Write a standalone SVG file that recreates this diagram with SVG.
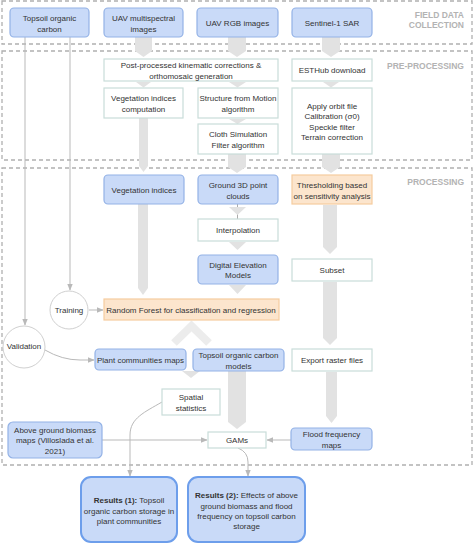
<svg xmlns="http://www.w3.org/2000/svg" width="474" height="544" viewBox="0 0 474 544">
<defs>
<style>
text{font-family:"Liberation Sans",Arial,sans-serif;font-size:8px;fill:#333;text-anchor:middle}
.sec{fill:none;stroke:#b0b0b0;stroke-width:1.3;stroke-dasharray:4 3}
.lbl{font-weight:bold;font-size:8.5px;fill:#b3b3b3;text-anchor:end}
.blue{fill:#c9daf8;stroke:#93b2e6;stroke-width:1.2}
.white{fill:#fff;stroke:#c9ddd9;stroke-width:1.2}
.orange{fill:#fce5cd;stroke:#f5cc9f;stroke-width:1.2}
.res{fill:#c9daf8;stroke:#6d9eeb;stroke-width:2}
.circ{fill:#fff;stroke:#d0d0d0;stroke-width:1}
.big{fill:#e2e2e2}
.thin{fill:none;stroke:#b9b9b9;stroke-width:1;marker-end:url(#ah)}
</style>
<marker id="ah" viewBox="0 0 10 10" refX="9" refY="5" markerWidth="7" markerHeight="7" orient="auto" markerUnits="userSpaceOnUse">
<path d="M0,1 L10,5 L0,9 z" fill="#b9b9b9"/>
</marker>
</defs>
<rect width="474" height="544" fill="#fff"/>
<g id="sections">
<rect class="sec" x="2" y="1" width="470" height="43"/>
<rect class="sec" x="2" y="51" width="470" height="109"/>
<rect class="sec" x="2" y="168" width="470" height="297"/>
<text class="lbl" x="464" y="17.5">FIELD DATA</text>
<text class="lbl" x="464" y="28">COLLECTION</text>
<text class="lbl" x="464" y="69">PRE-PROCESSING</text>
<text class="lbl" x="464" y="185">PROCESSING</text>
</g>
<g id="connectors">
<path class="big" d="M135,37 H152 V51 L143.5,57 L135,51 Z"/>
<path class="big" d="M228,37 H246 V51 L237,57 L228,51 Z"/>
<path class="big" d="M322,37 H340 V51 L331,57 L322,51 Z"/>
<path class="big" d="M136,82 H151 L143.5,87.5 Z"/>
<path class="big" d="M229,82 H246 L237.5,87.5 Z"/>
<path class="big" d="M323,82 H339 L331,87.5 Z"/>
<path class="big" d="M229,119 H246 L237.5,124 Z"/>
<path class="big" d="M139,118 H148 V166 L143.5,172 L139,166 Z"/>
<path class="big" d="M228,154 H246 V167 L237,173 L228,167 Z"/>
<path class="big" d="M322,154 H340 V167 L331,173 L322,167 Z"/>
<path class="big" d="M138,204 H148 V288 L143,295 L138,288 Z"/>
<line x1="237.5" y1="204" x2="237.5" y2="219" stroke="#888" stroke-width="0.7"/>
<path class="big" d="M229,207 H246 L237.5,215 Z"/>
<path class="big" d="M229,242 H246 L237.5,250 Z"/>
<path class="big" d="M229,285 H246 L237.5,294 Z"/>
<path class="big" d="M323,205 H337 V247 L330,254 L323,247 Z"/>
<path class="big" d="M323,282 H337 V338 L330,345 L323,338 Z"/>
<polyline points="174,343 191.5,326 209,343" fill="none" stroke="#ececec" stroke-width="8"/>
<path class="big" d="M182,371 H200 L191,378 Z"/>
<path class="big" d="M228,371 H246 V422 L237,429 L228,422 Z"/>
<path class="big" d="M326,372 H337 V416 L331.5,423 L326,416 Z"/>
<path class="thin" d="M25,37 V325"/>
<path class="thin" d="M70,37 V290"/>
<path class="thin" d="M89,310 H103"/>
<path class="thin" d="M45,350 Q62,360 80,360 L94,360"/>
<path class="thin" d="M162,402 C145,412 130,418 130,435 L130,476"/>
<path class="thin" d="M102,440 H207"/>
<path class="thin" d="M291,440 H267"/>
<path class="thin" d="M238,448 Q248,452 248,462 L248,476"/>
</g>
<g id="n-topsoil"><rect class="blue" x="10" y="8" width="79" height="29" rx="4"/><text x="49.5" y="20.5">Topsoil organic</text><text x="49.5" y="31.5">carbon</text></g>
<g id="n-uavms"><rect class="blue" x="104" y="8" width="79" height="29" rx="4"/><text x="143.5" y="20.5">UAV multispectral</text><text x="143.5" y="31.5">images</text></g>
<g id="n-uavrgb"><rect class="blue" x="197" y="8" width="81" height="29" rx="4"/><text x="237.5" y="25.5">UAV RGB images</text></g>
<g id="n-s1"><rect class="blue" x="292" y="8" width="80" height="29" rx="4"/><text x="332" y="25.5">Sentinel-1 SAR</text></g>
<g id="n-ppk"><rect class="white" x="104" y="59" width="174" height="22"/><text x="191" y="68">Post-processed kinematic corrections &amp;</text><text x="191" y="78.5">orthomosaic generation</text></g>
<g id="n-vic"><rect class="white" x="104" y="88" width="79" height="30"/><text x="143.5" y="101">Vegetation indices</text><text x="143.5" y="111.5">computation</text></g>
<g id="n-sfm"><rect class="white" x="198" y="88" width="80" height="30"/><text x="238" y="101">Structure from Motion</text><text x="238" y="111.5">algorithm</text></g>
<g id="n-csf"><rect class="white" x="198" y="124" width="80" height="30"/><text x="238" y="137">Cloth Simulation</text><text x="238" y="147.5">Filter  algorithm</text></g>
<g id="n-esthub"><rect class="white" x="292" y="59" width="80" height="22"/><text x="332" y="73">ESTHub download</text></g>
<g id="n-orbit"><rect class="white" x="292" y="88" width="80" height="66"/><text x="332" y="109">Apply orbit file</text><text x="332" y="119.3">Calibration (σ0)</text><text x="332" y="129.6">Speckle filter</text><text x="332" y="139.9">Terrain correction</text></g>
<g id="n-vi"><rect class="blue" x="104" y="175" width="80" height="29" rx="4"/><text x="144" y="193">Vegetation indices</text></g>
<g id="n-ground"><rect class="blue" x="198" y="175" width="80" height="29" rx="4"/><text x="238" y="188">Ground 3D point</text><text x="238" y="198.5">clouds</text></g>
<g id="n-thresh"><rect class="orange" x="292" y="175" width="80" height="29"/><text x="332" y="188">Thresholding based</text><text x="332" y="198.5">on sensitivity analysis</text></g>
<g id="n-interp"><rect class="white" x="198" y="219" width="80" height="22"/><text x="238" y="233">Interpolation</text></g>
<g id="n-dem"><rect class="blue" x="198" y="255" width="80" height="29" rx="4"/><text x="238" y="267.5">Digital Elevation</text><text x="238" y="278">Models</text></g>
<g id="n-subset"><rect class="white" x="292" y="259" width="80" height="22"/><text x="332" y="273">Subset</text></g>
<g id="n-rf"><rect class="orange" x="104" y="299" width="175" height="21"/><text x="191" y="313">Random Forest for classification and regression</text></g>
<g id="n-training"><circle class="circ" cx="69" cy="310" r="19"/><text x="69" y="313">Training</text></g>
<g id="n-validation"><circle class="circ" cx="24" cy="347" r="21"/><text x="24" y="349">Validation</text></g>
<g id="n-plant"><rect class="blue" x="95" y="349" width="91" height="21" rx="4"/><text x="140.5" y="363">Plant communities maps</text></g>
<g id="n-socm"><rect class="blue" x="193" y="349" width="91" height="22" rx="4"/><text x="238.5" y="358">Topsoil organic carbon</text><text x="238.5" y="369">models</text></g>
<g id="n-export"><rect class="white" x="292" y="349" width="80" height="22"/><text x="332" y="363">Export raster files</text></g>
<g id="n-spatial"><rect class="white" x="162" y="389" width="58" height="26"/><text x="191" y="400">Spatial</text><text x="191" y="411">statistics</text></g>
<g id="n-agb"><rect class="blue" x="8" y="422" width="94" height="36" rx="5"/><text x="55" y="433">Above ground biomass</text><text x="55" y="443">maps (Villoslada et al.</text><text x="55" y="453.5">2021)</text></g>
<g id="n-gams"><rect class="white" x="208" y="432" width="58" height="16"/><text x="237" y="443">GAMs</text></g>
<g id="n-flood"><rect class="blue" x="291" y="428" width="81" height="22" rx="4"/><text x="331.5" y="437">Flood frequency</text><text x="331.5" y="447.5">maps</text></g>
<g id="n-res1"><rect class="res" x="81" y="477" width="96" height="65" rx="10"/><text x="129" y="503"><tspan font-weight="bold">Results (1):</tspan> Topsoil</text><text x="129" y="513.5">organic carbon storage in</text><text x="129" y="524">plant communities</text></g>
<g id="n-res2"><rect class="res" x="188" y="477" width="117" height="65" rx="10"/><text x="246.5" y="498"><tspan font-weight="bold">Results (2):</tspan> Effects of above</text><text x="246.5" y="508.5">ground biomass and flood</text><text x="246.5" y="518.7">frequency on topsoil carbon</text><text x="246.5" y="529">storage</text></g>
</svg>
